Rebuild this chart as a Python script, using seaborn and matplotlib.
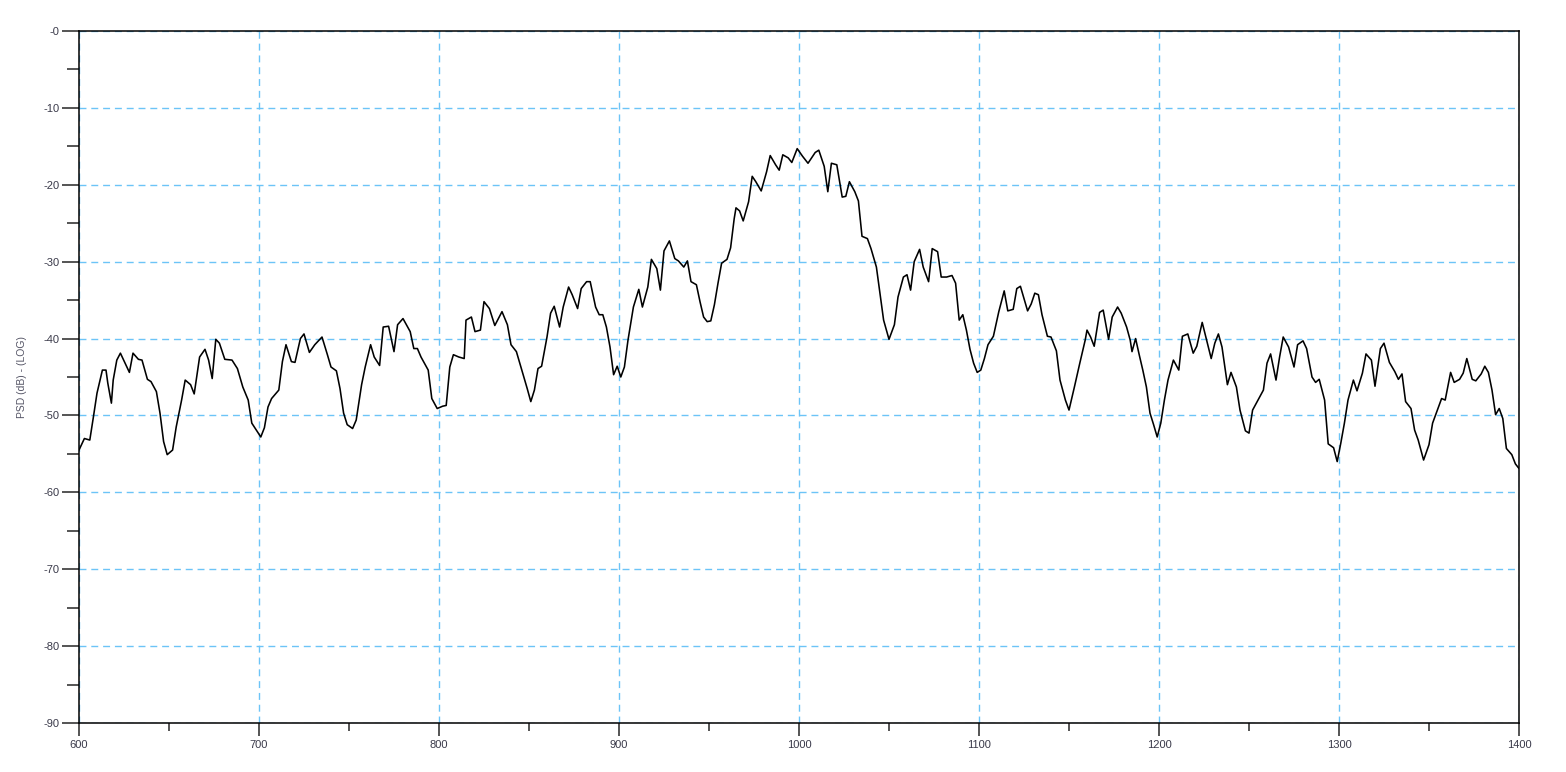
import numpy as np
import pandas as pd
import matplotlib
matplotlib.use("Agg")
import matplotlib.pyplot as plt
import seaborn as sns

# frequency points and PSD values
freq = [600, 603, 606, 608, 610, 613, 615, 616, 618, 619, 621, 623, 626, 628, 630, 633, 635, 638, 640, 643,
        645, 647, 649, 652, 654, 657, 659, 662, 664, 667, 670, 672, 674, 676, 678, 681, 685, 688, 691, 694,
        696, 701, 703, 705, 707, 711, 713, 715, 718, 720, 723, 725, 728, 731, 735, 738, 740, 743, 745, 747,
        749, 752, 754, 757, 759, 762, 764, 767, 769, 772, 775, 777, 780, 784, 786, 788, 790, 794, 796, 799,
        802, 804, 806, 808, 811, 814, 815, 818, 820, 823, 825, 828, 831, 835, 838, 840, 843, 846, 849, 851,
        853, 855, 857, 860, 862, 864, 867, 869, 872, 874, 877, 879, 882, 884, 887, 889, 891, 893, 895, 897,
        899, 901, 903, 905, 908, 911, 913, 916, 918, 921, 923, 925, 928, 931, 933, 936, 938, 940, 943, 945,
        947, 949, 951, 953, 955, 957, 960, 962, 964, 965, 967, 969, 972, 974, 976, 979, 982, 984, 987, 989,
        991, 994, 996, 999, 1002, 1005, 1009, 1011, 1014, 1016, 1018, 1021, 1024, 1026, 1028, 1031, 1033, 1035, 1038, 1040,
        1043, 1045, 1047, 1050, 1053, 1055, 1058, 1060, 1062, 1064, 1067, 1069, 1072, 1074, 1077, 1079, 1082, 1085, 1087, 1089,
        1091, 1093, 1095, 1097, 1099, 1101, 1103, 1105, 1108, 1111, 1114, 1116, 1119, 1121, 1123, 1127, 1129, 1131, 1133, 1135,
        1138, 1140, 1143, 1145, 1148, 1150, 1153, 1156, 1159, 1160, 1162, 1164, 1167, 1169, 1172, 1174, 1177, 1179, 1182, 1184,
        1185, 1187, 1189, 1191, 1193, 1195, 1197, 1199, 1201, 1203, 1205, 1208, 1211, 1213, 1216, 1219, 1221, 1224, 1226, 1229,
        1231, 1233, 1235, 1238, 1240, 1243, 1245, 1248, 1250, 1252, 1255, 1258, 1260, 1262, 1265, 1267, 1269, 1272, 1275, 1277,
        1280, 1282, 1285, 1287, 1289, 1292, 1294, 1297, 1299, 1301, 1303, 1305, 1308, 1310, 1313, 1315, 1318, 1320, 1323, 1325,
        1328, 1331, 1333, 1335, 1337, 1340, 1342, 1344, 1347, 1350, 1352, 1355, 1357, 1359, 1362, 1364, 1367, 1369, 1371, 1374,
        1376, 1379, 1381, 1383, 1385, 1387, 1389, 1391, 1393, 1396, 1398, 1400]
psd = [-54.5, -53.0, -53.2, -50.2, -47.1, -44.1, -44.1, -45.8, -48.4, -45.4, -42.8, -41.9, -43.4, -44.4, -41.9, -42.7, -42.8, -45.3, -45.6, -46.9,
       -49.7, -53.4, -55.1, -54.5, -51.5, -48.0, -45.4, -46.0, -47.2, -42.4, -41.4, -42.8, -45.2, -40.1, -40.6, -42.7, -42.8, -43.9, -46.3, -48.0,
       -51.0, -52.8, -51.6, -48.9, -47.8, -46.7, -43.0, -40.8, -43.0, -43.1, -40.0, -39.4, -41.8, -40.8, -39.8, -42.1, -43.7, -44.2, -46.5, -49.7,
       -51.2, -51.7, -50.6, -46.0, -43.7, -40.8, -42.4, -43.5, -38.5, -38.4, -41.7, -38.2, -37.4, -39.1, -41.3, -41.3, -42.4, -44.1, -47.8, -49.1,
       -48.8, -48.7, -43.7, -42.1, -42.4, -42.6, -37.6, -37.2, -39.1, -38.9, -35.2, -36.1, -38.3, -36.5, -38.2, -40.8, -41.7, -44.1, -46.5, -48.2,
       -46.7, -43.9, -43.6, -39.8, -36.7, -35.8, -38.5, -35.9, -33.3, -34.3, -36.1, -33.5, -32.6, -32.6, -35.9, -36.9, -36.9, -38.5, -41.1, -44.7,
       -43.6, -45.0, -43.7, -40.2, -35.9, -33.6, -35.9, -33.3, -29.7, -30.9, -33.7, -28.6, -27.3, -29.6, -29.9, -30.7, -29.9, -32.6, -33.0, -35.2,
       -37.2, -37.8, -37.7, -35.6, -32.8, -30.2, -29.7, -28.2, -24.4, -23.0, -23.4, -24.7, -22.2, -18.9, -19.6, -20.8, -18.3, -16.2, -17.4, -18.1,
       -16.1, -16.5, -17.1, -15.3, -16.3, -17.2, -15.8, -15.5, -17.6, -20.9, -17.2, -17.4, -21.6, -21.5, -19.6, -20.9, -22.1, -26.7, -27.0, -28.3,
       -30.7, -34.1, -37.6, -40.1, -38.2, -34.6, -32.0, -31.7, -33.7, -30.0, -28.4, -30.7, -32.6, -28.3, -28.7, -32.0, -32.0, -31.8, -32.8, -37.6,
       -36.9, -38.9, -41.4, -43.2, -44.4, -44.1, -42.6, -40.8, -39.7, -36.5, -33.8, -36.4, -36.2, -33.5, -33.2, -36.4, -35.5, -34.1, -34.3, -36.9,
       -39.7, -39.8, -41.6, -45.4, -48.0, -49.3, -46.3, -43.2, -40.2, -38.9, -39.8, -41.0, -36.6, -36.3, -40.1, -37.2, -35.9, -36.7, -38.5, -40.2,
       -41.7, -40.0, -42.1, -44.1, -46.3, -49.7, -51.2, -52.8, -51.0, -48.0, -45.4, -42.8, -44.1, -39.7, -39.4, -41.9, -41.0, -37.9, -39.8, -42.6,
       -40.6, -39.4, -41.1, -46.0, -44.4, -46.3, -49.3, -52.0, -52.3, -49.3, -48.0, -46.7, -43.2, -42.0, -45.4, -42.4, -39.8, -41.1, -43.7, -40.8,
       -40.3, -41.3, -45.0, -45.7, -45.3, -48.0, -53.7, -54.2, -56.0, -53.6, -51.0, -48.0, -45.4, -46.8, -44.5, -42.0, -42.8, -46.2, -41.3, -40.6,
       -43.1, -44.3, -45.3, -44.6, -48.2, -49.1, -51.9, -53.2, -55.8, -53.8, -51.0, -49.1, -47.8, -48.0, -44.4, -45.7, -45.3, -44.5, -42.6, -45.3,
       -45.5, -44.6, -43.6, -44.4, -46.7, -49.9, -49.1, -50.4, -54.3, -55.1, -56.3, -56.9]

x_ticks = [600, 700, 800, 900, 1000, 1100, 1200, 1300, 1400]
x_labels = ["600", "700", "800", "900", "1000", "1100", "1200", "1300", "1400"]
y_ticks = [0, -10, -20, -30, -40, -50, -60, -70, -80, -90]
y_labels = ["-0", "-10", "-20", "-30", "-40", "-50", "-60", "-70", "-80", "-90"]

df = pd.DataFrame({"freq": freq, "psd": psd})

sns.set_style("ticks")
plt.rcParams['font.family'] = ['Liberation Sans', 'DejaVu Sans']

fig = plt.figure(figsize=(15.66, 7.72), dpi=100)
ax = fig.add_axes([79 / 1566, 49 / 772, 1440 / 1566, 692 / 772])

sns.lineplot(data=df, x="freq", y="psd", ax=ax, color="black", linewidth=1.15,
             sort=False, estimator=None)

ax.set_xlim(600, 1400)
ax.set_ylim(-90, 0)
ax.set_xticks(x_ticks)
ax.set_xticklabels(x_labels)
ax.set_yticks(y_ticks)
ax.set_yticklabels(y_labels)
ax.set_xticks(np.arange(650, 1400, 100), minor=True)
ax.set_yticks(np.arange(-85, 0, 10), minor=True)

ax.grid(True, which="major", color="#6cc4f7", linestyle=(0, (5, 3.5)), linewidth=1.0)
ax.set_axisbelow(True)

ax.tick_params(axis="y", which="major", length=12, width=1.1, labelsize=8, labelcolor="#3a3a4a", pad=2)
ax.tick_params(axis="y", which="minor", length=9, width=1.1)
ax.tick_params(axis="x", which="major", length=9, width=1.1, labelsize=8, labelcolor="#3a3a4a", pad=3)
ax.tick_params(axis="x", which="minor", length=6, width=1.1)

for s in ax.spines.values():
    s.set_color("black")
    s.set_linewidth(1.1)

ax.set_xlabel("")
ax.set_ylabel("PSD (dB) - (LOG)", fontsize=7.5, color="#555566", labelpad=12)

fig.savefig("out.png", dpi=100)
